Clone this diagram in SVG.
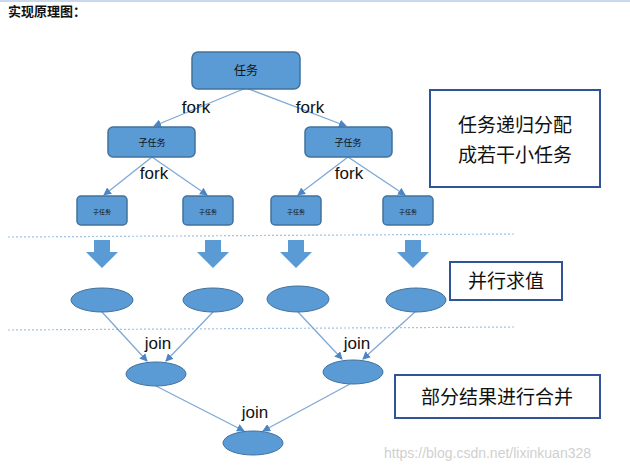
<svg xmlns="http://www.w3.org/2000/svg" width="630" height="471" viewBox="0 0 630 471">
<style>
.box{fill:#5b9bd5;stroke:#41719c;stroke-width:1.5}
.ell{fill:#5b9bd5;stroke:#41719c;stroke-width:1}
.lbl{fill:#fff;stroke:#2f5597;stroke-width:2}
.ln{stroke:#7fa8d6;stroke-width:1.3;fill:none;marker-end:url(#ah)}
.dash{stroke:#9dc3e6;stroke-width:1.2;stroke-dasharray:2 2}
.en{font-family:"Liberation Sans",Arial,sans-serif;fill:#111}
.cn{font-family:"Noto Sans CJK SC",sans-serif;fill:#111}
.dn{fill:#5b9bd5}
</style>
<defs>
<marker id="ah" markerWidth="8" markerHeight="8" refX="7" refY="4" orient="auto" markerUnits="userSpaceOnUse"><path d="M0,0 L8,4 L0,8z" fill="#4a86c5"/></marker>
</defs>
<rect width="630" height="471" fill="#fff"/>
<line x1="0" y1="1" x2="630" y2="1" stroke="#c9d8ea" stroke-width="2"/>
<text x="8" y="16" class="cn" font-size="13" font-weight="bold" fill="#333">实现原理图：</text>
<line class="dash" x1="8" y1="237" x2="515" y2="234"/>
<line class="dash" x1="8" y1="330" x2="515" y2="327"/>
<g id="connectors">
<line class="ln" x1="246" y1="88" x2="154" y2="126"/>
<line class="ln" x1="246" y1="88" x2="346" y2="126"/>
<line class="ln" x1="152" y1="157" x2="104" y2="195"/>
<line class="ln" x1="152" y1="157" x2="207" y2="195"/>
<line class="ln" x1="348" y1="157" x2="298" y2="195"/>
<line class="ln" x1="348" y1="157" x2="405" y2="195"/>
<line class="ln" x1="102" y1="312" x2="147" y2="361"/>
<line class="ln" x1="213" y1="312" x2="166" y2="361"/>
<line class="ln" x1="298" y1="312" x2="342" y2="359"/>
<line class="ln" x1="415" y1="312" x2="363" y2="359"/>
<line class="ln" x1="156" y1="386" x2="244" y2="431"/>
<line class="ln" x1="350" y1="384" x2="263" y2="431"/>
<text x="196" y="113" class="en" font-size="17" text-anchor="middle">fork</text>
<text x="310" y="113" class="en" font-size="17" text-anchor="middle">fork</text>
<text x="154" y="179" class="en" font-size="17" text-anchor="middle">fork</text>
<text x="349" y="179" class="en" font-size="17" text-anchor="middle">fork</text>
<text x="158" y="349" class="en" font-size="17" text-anchor="middle">join</text>
<text x="357" y="349" class="en" font-size="17" text-anchor="middle">join</text>
<text x="255" y="418" class="en" font-size="17" text-anchor="middle">join</text>
</g>
<g id="root"><rect class="box" x="192" y="52" width="108" height="37" rx="6"/><text x="246" y="75" class="cn" font-size="12" text-anchor="middle">任务</text></g>
<g id="sub1"><rect class="box" x="108" y="127" width="87" height="30" rx="5"/><text x="152" y="146" class="cn" font-size="9" text-anchor="middle">子任务</text></g>
<g id="sub2"><rect class="box" x="305" y="127" width="87" height="30" rx="5"/><text x="348" y="146" class="cn" font-size="9" text-anchor="middle">子任务</text></g>
<g id="leaf1"><rect class="box" x="77" y="196" width="50" height="29" rx="4"/><text x="102" y="214" class="cn" font-size="6" text-anchor="middle">子任务</text></g>
<g id="leaf2"><rect class="box" x="183" y="196" width="50" height="29" rx="4"/><text x="208" y="214" class="cn" font-size="6" text-anchor="middle">子任务</text></g>
<g id="leaf3"><rect class="box" x="271" y="196" width="50" height="29" rx="4"/><text x="296" y="214" class="cn" font-size="6" text-anchor="middle">子任务</text></g>
<g id="leaf4"><rect class="box" x="383" y="196" width="50" height="29" rx="4"/><text x="408" y="214" class="cn" font-size="6" text-anchor="middle">子任务</text></g>
<g id="arrows">
<path class="dn" d="M94,240 h16 v12 h8 l-16,16 l-16,-16 h8z"/>
<path class="dn" d="M205,240 h16 v12 h8 l-16,16 l-16,-16 h8z"/>
<path class="dn" d="M288,240 h16 v12 h8 l-16,16 l-16,-16 h8z"/>
<path class="dn" d="M405,240 h16 v12 h8 l-16,16 l-16,-16 h8z"/>
</g>
<g id="e1"><ellipse class="ell" cx="102" cy="300" rx="31" ry="12"/></g>
<g id="e2"><ellipse class="ell" cx="213" cy="300" rx="30" ry="12"/></g>
<g id="e3"><ellipse class="ell" cx="298" cy="299" rx="31" ry="13"/></g>
<g id="e4"><ellipse class="ell" cx="416" cy="300" rx="30" ry="12"/></g>
<g id="j1"><ellipse class="ell" cx="156" cy="374" rx="30" ry="12"/></g>
<g id="j2"><ellipse class="ell" cx="353" cy="372" rx="30" ry="12"/></g>
<g id="final"><ellipse class="ell" cx="253" cy="443" rx="30" ry="12"/></g>
<g id="note1"><rect class="lbl" x="430" y="90" width="170" height="97"/><text x="515" y="132" class="cn" font-size="19" text-anchor="middle">任务递归分配</text><text x="515" y="162" class="cn" font-size="19" text-anchor="middle">成若干小任务</text></g>
<g id="note2"><rect class="lbl" x="450" y="262" width="112" height="38" fill="#fff"/><text x="506" y="288" class="cn" font-size="19" text-anchor="middle">并行求值</text></g>
<g id="note3"><rect class="lbl" x="395" y="375" width="205" height="43"/><text x="497" y="404" class="cn" font-size="19" text-anchor="middle">部分结果进行合并</text></g>
<text x="384" y="458" font-family="Liberation Sans,Arial,sans-serif" font-size="14" fill="#d0d0d0">https://blog.csdn.net/lixinkuan328</text>
</svg>
